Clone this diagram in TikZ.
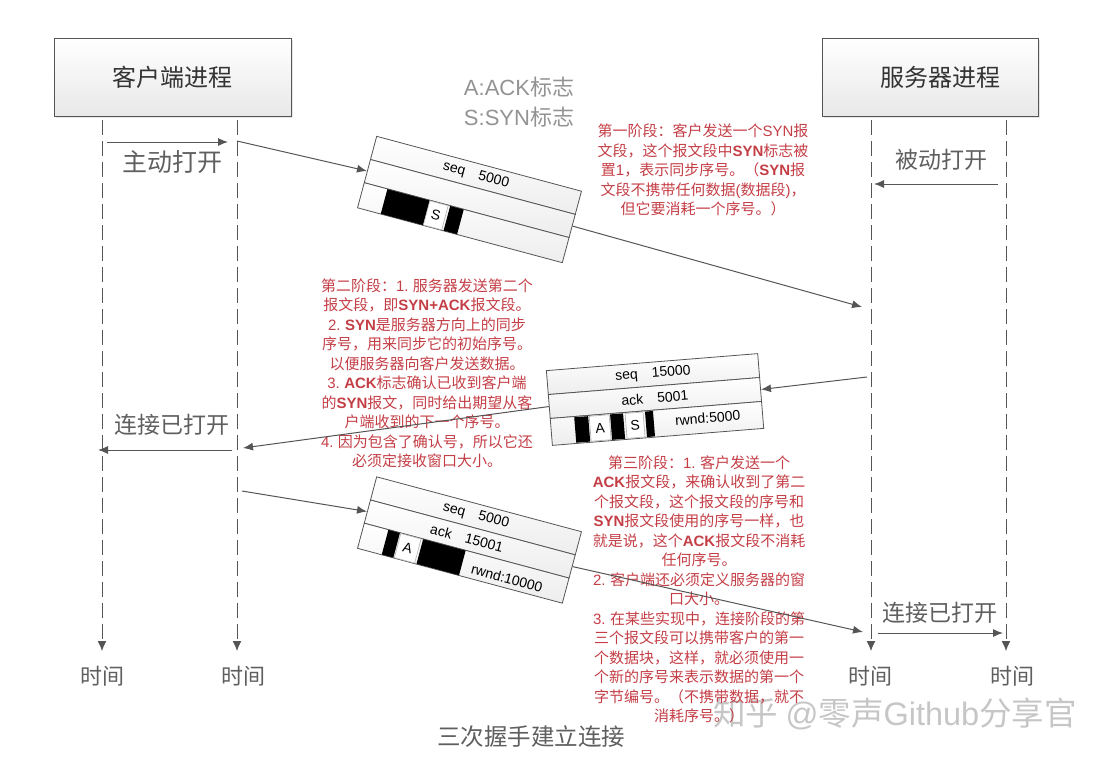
\documentclass[tikz,border=0pt]{standalone}
\usepackage{fontspec}
\setmainfont{Noto Sans CJK SC}
\newfontfamily\enfont{Liberation Sans}
\usetikzlibrary{arrows.meta,shadows}
\definecolor{linegray}{RGB}{85,85,85}
\definecolor{labelgray}{RGB}{95,95,95}
\definecolor{notered}{RGB}{196,62,70}
\newcommand{\enb}[1]{{\enfont\bfseries #1}}
\newcommand{\enr}[1]{{\enfont #1}}

\begin{document}
\begin{tikzpicture}[x=1pt,y=-1pt,
      procbox/.style = {draw=linegray, line width=1pt, minimum width=#1, minimum height=78pt,
        top color=white, bottom color=gray!18, text=black!80,
        drop shadow={opacity=.2, shadow xshift=1.5pt, shadow yshift=-1.5pt},
        font=\fontsize{24}{28}\selectfont},
      lifeline/.style = {draw=linegray, line width=1pt, dash pattern=on 15pt off 6pt,
        -{Latex[length=10pt,width=9pt]}},
      msg/.style = {draw=linegray, line width=1pt, -{Latex[length=10pt,width=8pt]}},
      bigtag/.style = {text=labelgray, inner sep=0pt, font=\fontsize{#1}{#1}\selectfont},
      note/.style = {text=notered, align=center, inner sep=0pt,
        font=\fontsize{15}{19.5}\selectfont},
      pktrow/.style = {draw=linegray, line width=.8pt, minimum width=212pt, minimum height=#1,
        inner sep=0pt, top color=white, bottom color=gray!14, text=black,
        font=\enfont\fontsize{14}{16}\selectfont},
      pktlabel/.style = {inner sep=0pt, text=black, font=\enfont\fontsize{14}{16}\selectfont},
      flagblack/.style = {fill=black, inner sep=0pt, minimum width=#1, minimum height=25.5pt},
      flagwhite/.style = {fill=white, draw=gray!60, line width=.6pt, inner sep=0pt,
        minimum width=#1, minimum height=25pt, text=black,
        font=\enfont\fontsize{14}{16}\selectfont}]
      \useasboundingbox (0,0) rectangle (1108,761);

      % processes
      \node[procbox=237pt] (client) at (172.5,77) {客户端进程};
      \node[procbox=216pt] (server) at (930,77) {\hspace*{20pt}服务器进程};

      % time axes
      \coordinate (aTop) at (102,120);
      \coordinate (aEnd) at (102,651);
      \coordinate (bTop) at (237,120);
      \coordinate (bEnd) at (237,651);
      \coordinate (cTop) at (871,120);
      \coordinate (cEnd) at (871,651);
      \coordinate (dTop) at (1006,120);
      \coordinate (dEnd) at (1006,651);
      \draw[lifeline] (aTop) -- (aEnd);
      \draw[lifeline] (bTop) -- (bEnd);
      \draw[lifeline] (cTop) -- (cEnd);
      \draw[lifeline] (dTop) -- (dEnd);
      \node[bigtag=22] (timeA) at (102,676) {时间};
      \node[bigtag=22] (timeB) at (243,676) {时间};
      \node[bigtag=22] (timeC) at (870,676) {时间};
      \node[bigtag=22] (timeD) at (1012,676) {时间};

      % grey labels
      \node[bigtag=25] (activeOpen) at (172,162) {主动打开};
      \node[bigtag=23] (passiveOpen) at (941,160) {被动打开};
      \node[bigtag=23] (openLeft) at (171.5,425) {连接已打开};
      \node[bigtag=23] (openRight) at (940,613) {连接已打开};
      \node[bigtag=22, text=gray!85, align=left, font=\fontsize{22}{30}\selectfont]
        (flagKey) at (519,102) {\enr{A:ACK}标志\\\enr{S:SYN}标志};
      \node[bigtag=23.5] (title) at (531,737) {三次握手建立连接};
      \node[bigtag=32.5, text=gray!45] (mark) at (895,714) {知乎 \enr{@}零声\enr{Github}分享官};

      % phase notes
      \node[note] (phaseOne) at (703,170) {第一阶段：客户发送一个\enr{SYN}报\\
        文段，这个报文段中\enb{SYN}标志被\\
        置\enr{1}，表示同步序号。（\enb{SYN}报\\
        文段不携带任何数据\enr{(}数据段\enr{)}，\\
        但它要消耗一个序号。）};
      \node[note] (phaseTwo) at (427,373.5) {第二阶段：\enr{1.} 服务器发送第二个\\
        报文段，即\enb{SYN+ACK}报文段。\\
        \enr{2.} \enb{SYN}是服务器方向上的同步\\
        序号，用来同步它的初始序号。\\
        以便服务器向客户发送数据。\\
        \enr{3.} \enb{ACK}标志确认已收到客户端\\
        的\enb{SYN}报文，同时给出期望从客\\
        户端收到的下一个序号。\\
        \enr{4.} 因为包含了确认号，所以它还\\
        必须定接收窗口大小。};
      \node[note] (phaseThree) at (699,589.5) {第三阶段：\enr{1.} 客户发送一个\\
        \enb{ACK}报文段，来确认收到了第二\\
        个报文段，这个报文段的序号和\\
        \enb{SYN}报文段使用的序号一样，也\\
        就是说，这个\enb{ACK}报文段不消耗\\
        任何序号。\\
        \enr{2.} 客户端还必须定义服务器的窗\\
        口大小。\\
        \enr{3.} 在某些实现中，连接阶段的第\\
        三个报文段可以携带客户的第一\\
        个数据块，这样，就必须使用一\\
        个新的序号来表示数据的第一个\\
        字节编号。（不携带数据，就不\\
        消耗序号。）};

      % first segment
      \begin{scope}[shift={(469.5,199.5)},rotate=-15,transform shape]
        \node[pktrow=24pt] (synSeq) at (0,-25) {seq\quad 5000};
        \node[pktrow=24pt] (synAck) at (0,-1) {};
        \node[pktrow=26pt] (synWin) at (0,24) {};
        \node[flagblack=44pt] (synB1) at (-60,24) {};
        \node[flagwhite=19pt] (synS) at (-28.5,24) {S};
        \node[flagblack=14pt] (synB2) at (-10,24) {};
      \end{scope}

      % second segment
      \begin{scope}[shift={(655,399)},rotate=4.6,transform shape]
        \node[pktrow=24pt] (sackSeq) at (0,-25) {seq\quad 15000};
        \node[pktrow=24pt] (sackAck) at (0,-1) {ack\quad 5001};
        \node[pktrow=27pt] (sackWin) at (0,24.5) {};
        \node[flagblack=14pt] (sackB1) at (-75,24.5) {};
        \node[flagwhite=20pt] (sackA) at (-57,24.5) {A};
        \node[flagblack=13pt] (sackB2) at (-39.5,24.5) {};
        \node[flagwhite=18pt] (sackS) at (-22,24.5) {S};
        \node[flagblack=8pt] (sackB3) at (-7,24.5) {};
        \node[pktlabel] (sackRwnd) at (51,23) {rwnd:5000};
      \end{scope}

      % third segment
      \begin{scope}[shift={(469.5,540)},rotate=-15,transform shape]
        \node[pktrow=24pt] (ackSeq) at (0,-25) {seq\quad 5000};
        \node[pktrow=24pt] (ackAck) at (0,-1) {};
        \node[pktrow=26pt] (ackWin) at (0,24) {};
        \node[flagblack=12pt] (ackB1) at (-75,24) {};
        \node[flagwhite=21pt] (ackA) at (-57.5,24) {A};
        \node[flagblack=44pt] (ackB2) at (-23,24) {};
        \node[pktlabel] (ackNum) at (-3,-1) {ack\quad 15001};
        \node[pktlabel] (ackRwnd) at (46,27) {rwnd:10000};
      \end{scope}

      % message ends on the time axes
      \coordinate (activeFrom) at (107,142);
      \coordinate (activeTo) at (228,142);
      \coordinate (passiveFrom) at (998,184);
      \coordinate (passiveTo) at (874,184);
      \coordinate (synFrom) at (237,141);
      \coordinate (synTo) at (862,307);
      \coordinate (sackFrom) at (867,377);
      \coordinate (sackTo) at (243,448);
      \coordinate (leftFrom) at (232,450);
      \coordinate (leftTo) at (98,450);
      \coordinate (ackFrom) at (242,491);
      \coordinate (ackTo) at (863,632);
      \coordinate (rightFrom) at (878,633);
      \coordinate (rightTo) at (1003,633);

      \draw[msg] (activeFrom) -- (activeTo);
      \draw[msg] (passiveFrom) -- (passiveTo);
      \draw[msg] (synFrom) -- (synAck.west);
      \draw[msg] (synAck.east) -- (synTo);
      \draw[msg] (sackFrom) -- (sackAck.east);
      \draw[msg] (sackAck.west) -- (sackTo);
      \draw[msg] (leftFrom) -- (leftTo);
      \draw[msg] (ackFrom) -- (ackAck.west);
      \draw[msg] (ackAck.east) -- (ackTo);
      \draw[msg] (rightFrom) -- (rightTo);
  \end{tikzpicture}
\end{document}
